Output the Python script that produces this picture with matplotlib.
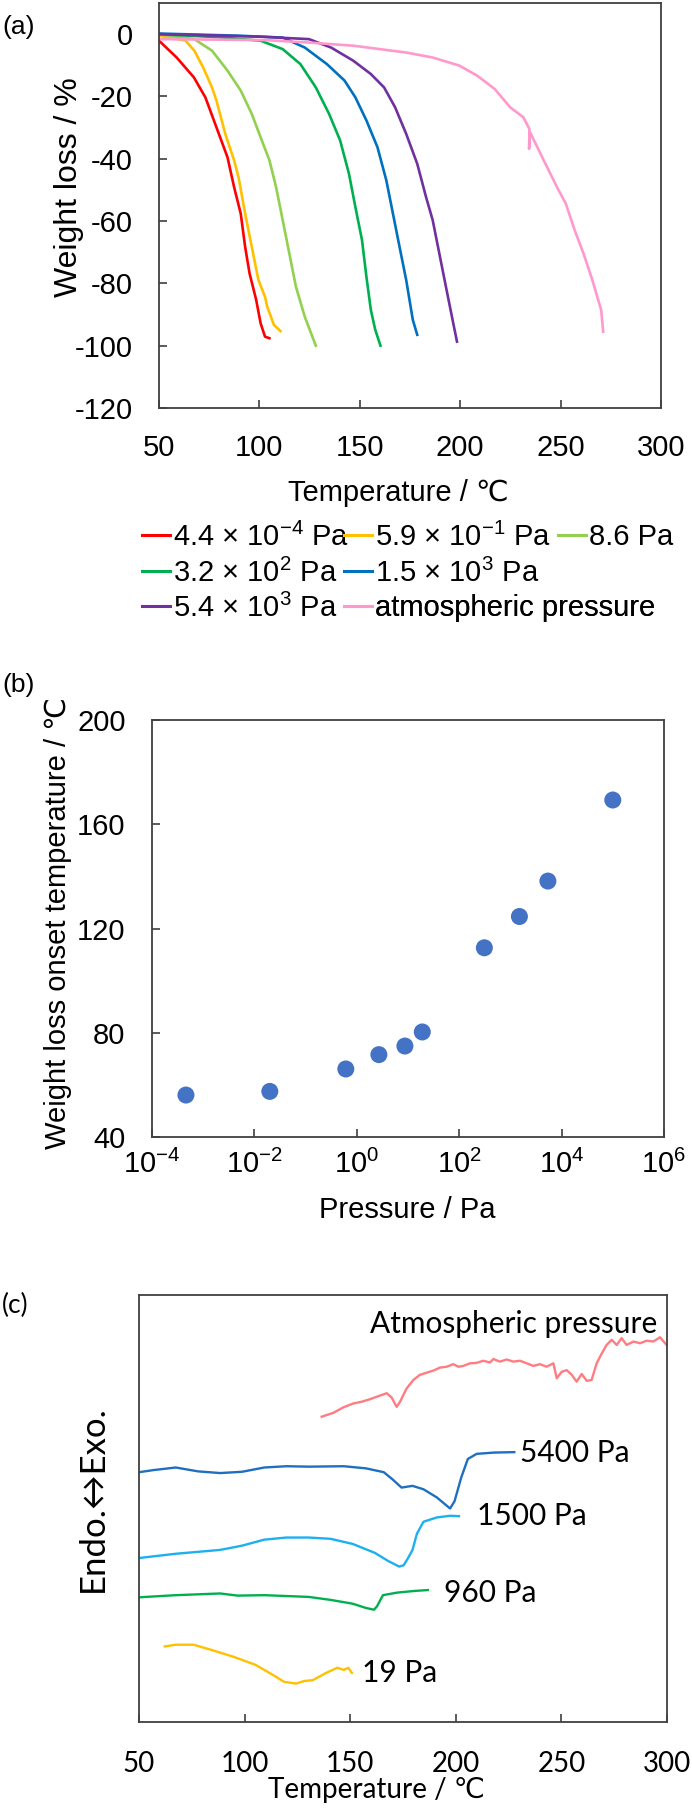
import matplotlib
matplotlib.use("Agg")
import matplotlib.pyplot as plt
from matplotlib.lines import Line2D
from matplotlib.ticker import LogFormatterSciNotation, NullLocator

plt.rcParams['font.family'] = ['Liberation Sans', 'DejaVu Sans']
plt.rcParams['mathtext.default'] = 'regular'
plt.rcParams['axes.unicode_minus'] = False

# ---------------- Panel (a): TG curves ----------------
t_44e4 = [50, 58.8, 67.4, 73.1, 78.6, 84.1, 87.4, 90.7, 92.9, 95.1, 98.4, 100.6, 102.8, 105]
w_44e4 = [-2.1, -7.5, -13.9, -20.3, -29.9, -39.5, -49.1, -57.6, -68.3, -76.8, -85.3, -92.8, -97.1, -97.6]
t_59e1 = [50, 63.2, 67.6, 72, 76.4, 78.6, 83, 87.4, 89.6, 92.9, 96.2, 99.5, 102.8, 103.9, 107.2, 110.5]
w_59e1 = [-0.5, -2.1, -5.3, -10.7, -17.1, -21.3, -32, -40.5, -45.9, -57.6, -68.3, -78.9, -84.3, -87.5, -93.3, -95.3]
t_86 = [50, 67.6, 76.4, 84.1, 90.7, 96.2, 100.6, 105, 108.3, 111.6, 114.9, 118.2, 122.6, 128.1]
w_86 = [0, -1.6, -5.3, -11.7, -18.1, -25.6, -33.1, -40.5, -49.1, -59.7, -70.4, -81.1, -90.7, -100]
t_32e2 = [50, 80, 100.6, 111.6, 120.4, 128.1, 134.7, 140.2, 144.6, 147.8, 151.1, 153.3, 155.5, 157.7, 160.3]
w_32e2 = [0, -1, -2.1, -4.8, -9.6, -17.1, -25.6, -34.1, -44.8, -55.5, -66.1, -77.9, -88.5, -94.9, -100]
t_15e3 = [50, 90, 111.6, 122.6, 133.6, 142.4, 147.8, 153.3, 158.8, 163.2, 166.5, 169.8, 173.1, 176.4, 178.6]
w_15e3 = [0.2, -0.5, -1.1, -4.3, -9.6, -14.9, -20.3, -27.7, -36.3, -46.9, -57.6, -68.3, -78.9, -91.7, -96.5]
t_54e3 = [50, 100, 124.7, 135.7, 146.7, 155.5, 162.1, 167.6, 173.1, 178.6, 183, 186.3, 189.6, 192.9, 196.2, 198.4]
w_54e3 = [0, -0.8, -1.6, -4.3, -8.5, -12.8, -17.1, -23.5, -32, -41.6, -52.3, -59.7, -70.4, -81.1, -91.7, -98.7]
t_atm = [50, 102.8, 124.7, 146.7, 159.9, 173.1, 186.3, 199.6, 208.4, 217.2, 224.9, 231.5, 234.5, 234.3,
         234.8, 241.6, 248.2, 252.6, 257, 261.4, 265.8, 270.2, 271.2]
w_atm = [-1.6, -1.9, -2.7, -3.7, -4.8, -5.9, -7.5, -10.1, -13.3, -17.6, -23.5, -26.7, -30.5, -36.8,
         -31.5, -40.5, -49.1, -54.4, -62.9, -70.4, -78.9, -88.5, -95.5]

tg_labels = ['4.4 × 10$^{-4}$ Pa', '5.9 × 10$^{-1}$ Pa', '8.6 Pa', '3.2 × 10$^{2}$ Pa',
             '1.5 × 10$^{3}$ Pa', '5.4 × 10$^{3}$ Pa', 'atmospheric pressure']
tg_colors = ['#FF0000', '#FFC000', '#92D050', '#00B050', '#0070C0', '#7030A0', '#FF99CC']

# ---------------- Panel (b): onset temperature ----------------
pressure_pa = [4.6e-4, 0.020, 0.61, 2.7, 8.7, 19, 310, 1500, 5400, 1.0e5]
onset_temp = [56.1, 57.5, 66.1, 71.6, 74.9, 80.3, 112.6, 124.6, 138.2, 169.3]

# ---------------- Panel (c): DTA curves ----------------
dta_t_atm = [136.5, 142.0, 146.8, 151.5, 155.4, 159.4, 163.3, 167.3, 169.6, 172.0, 173.6, 176.7, 179.9,
             183.0, 186.2, 189.4, 192.5, 195.7, 198.8, 201.2, 203.6, 206.7, 209.9, 213.0, 216.2, 217.8,
             220.9, 224.1, 227.2, 230.4, 233.6, 236.7, 239.9, 243.0, 246.2, 247.8, 250.1, 252.5, 254.9,
             257.2, 259.6, 262.0, 264.3, 266.7, 269.1, 271.4, 273.8, 276.2, 278.5, 280.9, 284.1, 287.2,
             290.4, 293.5, 296.7, 299.8]
dta_y_atm = [71.5, 72.4, 73.7, 74.6, 75, 75.6, 76.3, 77, 76, 73.8, 75, 78.1, 80.1, 81.3, 81.8, 82.3, 83,
             83.2, 83.8, 83.2, 83.4, 84, 84.1, 84.6, 84.2, 85, 84.4, 84.9, 84.4, 84.6, 84, 83.4, 83.8,
             83.2, 84, 80.5, 82, 82.4, 81.3, 79.7, 81.5, 79.9, 80.1, 84, 86.3, 88.3, 89.5, 88.3, 89.9,
             88.3, 89.1, 88.7, 89.3, 89.1, 90.1, 88.3]
dta_t_5400 = [50, 56.9, 67.4, 77.9, 88.4, 98.8, 109.3, 119.8, 130.3, 147, 157.5, 165.9, 170.1, 174.3,
              179.5, 184.7, 191, 197.3, 199.4, 202.6, 205.7, 209.9, 218.3, 227.7]
dta_y_5400 = [58.5, 59, 59.6, 58.7, 58.3, 58.6, 59.6, 59.9, 59.8, 59.9, 59.4, 58.5, 56.8, 54.9, 55.3,
              54.5, 52.6, 50, 51.7, 57.3, 61.6, 62.8, 63.1, 63.2]
dta_t_1500 = [50, 67.4, 88.4, 98.8, 109.3, 119.8, 130.3, 140.7, 151.2, 161.7, 168, 173.2, 175.3, 177.4,
              179.5, 181.6, 184.7, 191, 197.3, 201.5]
dta_y_1500 = [38.4, 39.4, 40.3, 41.3, 42.7, 43.2, 43.2, 42.9, 41.7, 39.6, 37.7, 36.4, 36.7, 38.4, 40.3,
              44.1, 46.9, 47.9, 48.3, 48.2]
dta_t_960 = [50, 67.4, 88.4, 96.7, 109.3, 130.3, 140.7, 151.2, 157.5, 161.3, 162.7, 165.5, 172.2, 180.6, 186.8]
dta_y_960 = [29.2, 29.7, 30.1, 29.6, 29.7, 29.3, 28.6, 27.7, 26.7, 26.3, 27.1, 29.7, 30.3, 30.7, 30.9]
dta_t_19 = [62.2, 67.4, 75.8, 84.2, 94.6, 105.1, 113.5, 118.7, 124.4, 128.2, 132.3, 138.6, 143.9, 147, 149.1, 150.8]
dta_y_19 = [17.7, 18.1, 18.1, 16.9, 15.3, 13.4, 11, 9.4, 9, 9.6, 9.8, 11.5, 12.7, 12.2, 12.7, 11.5]

dta_labels = ['Atmospheric pressure', '5400 Pa', '1500 Pa', '960 Pa', '19 Pa']
dta_colors = ['#FF7C80', '#1F6FC0', '#1CB0F0', '#00B050', '#FFC000']

W, H = 692, 1810
fig = plt.figure(figsize=(W / 100, H / 100), dpi=100)


def box(l, r, t, b):
    return [l / W, 1 - b / H, (r - l) / W, (b - t) / H]


EDGE = '#404040'


def style(ax):
    for s in ax.spines.values():
        s.set_color(EDGE)
        s.set_linewidth(1.3)


# ---- (a)
axa = fig.add_axes(box(159, 661, 3, 408))
style(axa)
series_a = [(t_44e4, w_44e4), (t_59e1, w_59e1), (t_86, w_86), (t_32e2, w_32e2),
            (t_15e3, w_15e3), (t_54e3, w_54e3), (t_atm, w_atm)]
lines = []
for (tx, wy), c in zip(series_a, tg_colors):
    ln, = axa.plot(tx, wy, color=c, lw=1.9, solid_joinstyle='round')
    lines.append(ln)
axa.set_xlim(50, 300)
axa.set_ylim(-120, 10)
axa.set_xticks([50, 100, 150, 200, 250, 300])
axa.set_yticks([-120, -100, -80, -60, -40, -20, 0])
axa.tick_params(direction='in', length=6, width=1.2, color=EDGE, labelsize=21, pad=19)
axa.set_xlabel('Temperature / ℃', fontsize=21)
axa.set_ylabel('Weight loss / %', fontsize=23)
axa.xaxis.set_label_coords(0.476, -0.175)
axa.yaxis.set_label_coords(-0.149, 0.546)
fig.text(2 / W, 1 - 27 / H, '(a)', fontsize=19, ha='left', va='center')

# legend entries placed like the reference (row-wise, uneven rows)
leg_pos = [(142, 537), (344, 537), (558, 537), (142, 573), (344, 573), (142, 608), (344, 608)]
for ln, lab, (px, py) in zip(lines, tg_labels, leg_pos):
    h = Line2D([], [], color=ln.get_color(), lw=2.2)
    lg = axa.legend([h], [lab], loc='center left', bbox_to_anchor=(px / W, 1 - py / H),
                    bbox_transform=fig.transFigure, frameon=False, fontsize=21,
                    handlelength=0.95, handletextpad=0.12, borderpad=0, borderaxespad=0)
    axa.add_artist(lg)

# ---- (b)
axb = fig.add_axes(box(152, 664, 720, 1137))
style(axb)
axb.scatter(pressure_pa, onset_temp, s=150, color='#4472C4', edgecolors='none', zorder=3)
axb.set_xscale('log')
axb.set_xlim(1e-4, 1e6)
axb.set_ylim(40, 200)
axb.set_xticks([1e-4, 1e-2, 1e0, 1e2, 1e4, 1e6])
axb.xaxis.set_major_formatter(LogFormatterSciNotation())
axb.xaxis.set_minor_locator(NullLocator())
axb.set_yticks([40, 80, 120, 160, 200])
axb.tick_params(direction='in', length=6, width=1.2, color=EDGE, labelsize=21)
axb.tick_params(axis='y', pad=19)
axb.tick_params(axis='x', pad=9)
axb.set_xlabel('Pressure / Pa', fontsize=21)
axb.set_ylabel('Weight loss onset temperature / ℃', fontsize=21)
axb.xaxis.set_label_coords(0.498, -0.1415)
axb.yaxis.set_label_coords(-0.156, 0.513)
fig.text(2 / W, 1 - 685 / H, '(b)', fontsize=19, ha='left', va='center')

# ---- (c)
CFONT = ['Lato', 'DejaVu Sans']
axc = fig.add_axes(box(139, 667, 1295, 1722))
style(axc)
series_c = [(dta_t_atm, dta_y_atm), (dta_t_5400, dta_y_5400), (dta_t_1500, dta_y_1500),
            (dta_t_960, dta_y_960), (dta_t_19, dta_y_19)]
for (tx, yy), c in zip(series_c, dta_colors):
    axc.plot(tx, yy, color=c, lw=1.7, solid_joinstyle='round')
label_xy = [(159.2, 93.2), (230.4, 63.0), (209.9, 48.3), (194.2, 30.1), (155.8, 11.5)]
for lab, (lx, ly) in zip(dta_labels, label_xy):
    axc.text(lx, ly, lab, fontsize=21.5, family=CFONT, ha='left', va='center')
axc.set_xlim(50, 300)
axc.set_ylim(0, 100)
axc.set_xticks([50, 100, 150, 200, 250, 300])
axc.set_yticks([])
axc.tick_params(direction='in', length=6, width=1.2, color=EDGE, labelsize=20, pad=21)
for t in axc.get_xticklabels():
    t.set_family(CFONT)
axc.set_xlabel('Temperature / ℃', fontsize=20, family=CFONT)
axc.set_ylabel('Endo.↔Exo.', fontsize=25, family=CFONT)
axc.xaxis.set_label_coords(0.45, -0.128)
axc.yaxis.set_label_coords(-0.057, 0.522)
fig.text(2 / W, 1 - 1305 / H, '(c)', fontsize=19, ha='left', va='center', family=CFONT)

fig.savefig('out.png', dpi=100)
